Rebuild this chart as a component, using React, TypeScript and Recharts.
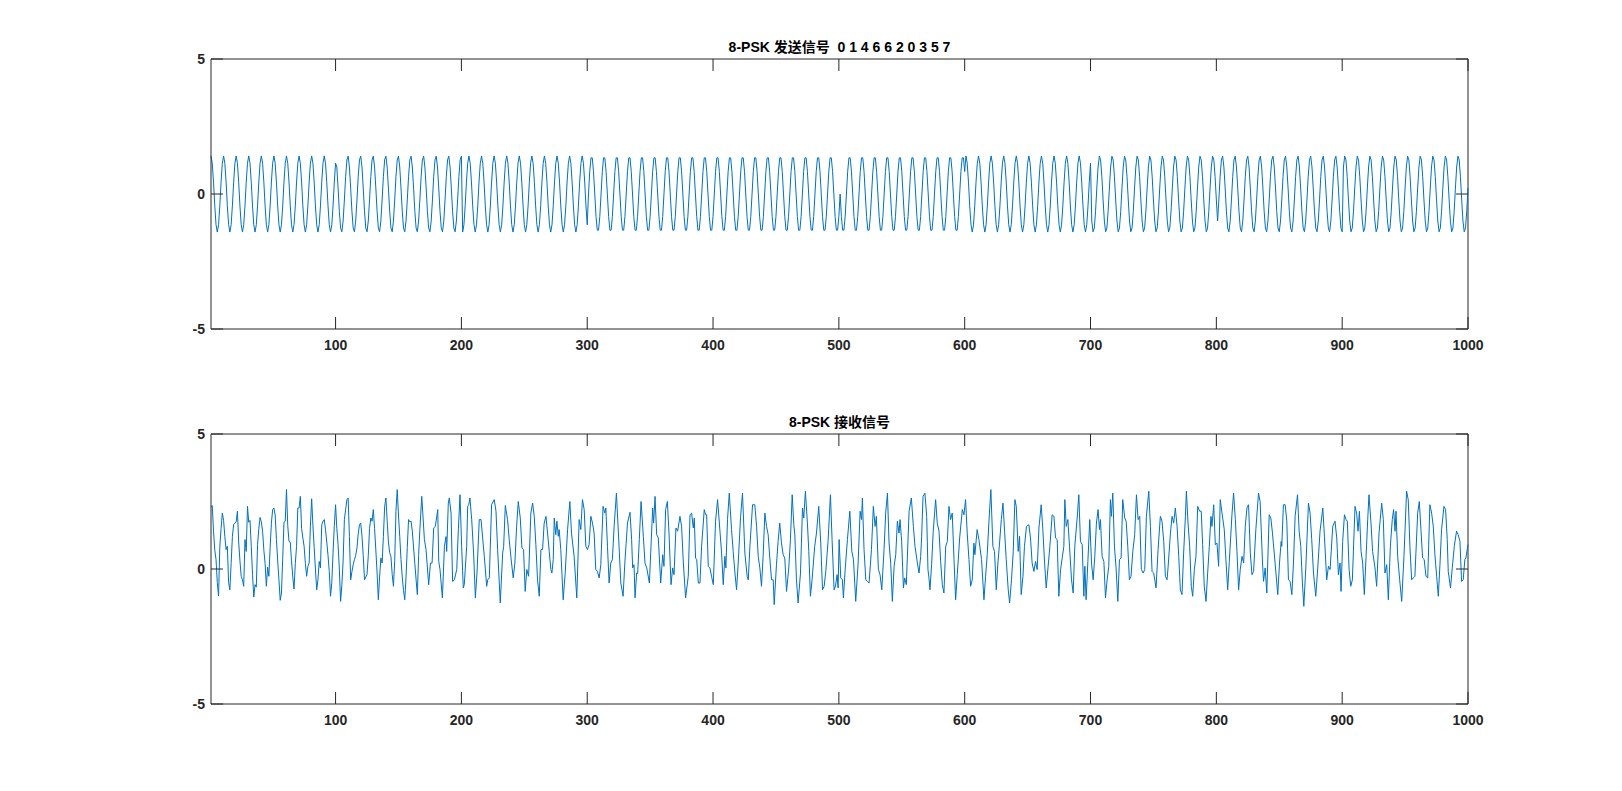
import { LineChart, Line, XAxis, YAxis, ReferenceLine } from 'recharts';

// 8-PSK transmitted signal, one array per symbol (0 1 4 6 6 2 0 3 5 7), 100 samples each
const tx0 = [
  1.41, 1.14, 0.44, -0.44, -1.14, -1.41, -1.14, -0.44, 0.44, 1.14,
  1.41, 1.14, 0.44, -0.44, -1.14, -1.41, -1.14, -0.44, 0.44, 1.14,
  1.41, 1.14, 0.44, -0.44, -1.14, -1.41, -1.14, -0.44, 0.44, 1.14,
  1.41, 1.14, 0.44, -0.44, -1.14, -1.41, -1.14, -0.44, 0.44, 1.14,
  1.41, 1.14, 0.44, -0.44, -1.14, -1.41, -1.14, -0.44, 0.44, 1.14,
  1.41, 1.14, 0.44, -0.44, -1.14, -1.41, -1.14, -0.44, 0.44, 1.14,
  1.41, 1.14, 0.44, -0.44, -1.14, -1.41, -1.14, -0.44, 0.44, 1.14,
  1.41, 1.14, 0.44, -0.44, -1.14, -1.41, -1.14, -0.44, 0.44, 1.14,
  1.41, 1.14, 0.44, -0.44, -1.14, -1.41, -1.14, -0.44, 0.44, 1.14,
  1.41, 1.14, 0.44, -0.44, -1.14, -1.41, -1.14, -0.44, 0.44, 1.14,
];
const tx1 = [
  1, 0.22, -0.64, -1.26, -1.4, -1, -0.22, 0.64, 1.26, 1.4,
  1, 0.22, -0.64, -1.26, -1.4, -1, -0.22, 0.64, 1.26, 1.4,
  1, 0.22, -0.64, -1.26, -1.4, -1, -0.22, 0.64, 1.26, 1.4,
  1, 0.22, -0.64, -1.26, -1.4, -1, -0.22, 0.64, 1.26, 1.4,
  1, 0.22, -0.64, -1.26, -1.4, -1, -0.22, 0.64, 1.26, 1.4,
  1, 0.22, -0.64, -1.26, -1.4, -1, -0.22, 0.64, 1.26, 1.4,
  1, 0.22, -0.64, -1.26, -1.4, -1, -0.22, 0.64, 1.26, 1.4,
  1, 0.22, -0.64, -1.26, -1.4, -1, -0.22, 0.64, 1.26, 1.4,
  1, 0.22, -0.64, -1.26, -1.4, -1, -0.22, 0.64, 1.26, 1.4,
  1, 0.22, -0.64, -1.26, -1.4, -1, -0.22, 0.64, 1.26, 1.4,
];
const tx2 = [
  -1.41, -1.14, -0.44, 0.44, 1.14, 1.41, 1.14, 0.44, -0.44, -1.14,
  -1.41, -1.14, -0.44, 0.44, 1.14, 1.41, 1.14, 0.44, -0.44, -1.14,
  -1.41, -1.14, -0.44, 0.44, 1.14, 1.41, 1.14, 0.44, -0.44, -1.14,
  -1.41, -1.14, -0.44, 0.44, 1.14, 1.41, 1.14, 0.44, -0.44, -1.14,
  -1.41, -1.14, -0.44, 0.44, 1.14, 1.41, 1.14, 0.44, -0.44, -1.14,
  -1.41, -1.14, -0.44, 0.44, 1.14, 1.41, 1.14, 0.44, -0.44, -1.14,
  -1.41, -1.14, -0.44, 0.44, 1.14, 1.41, 1.14, 0.44, -0.44, -1.14,
  -1.41, -1.14, -0.44, 0.44, 1.14, 1.41, 1.14, 0.44, -0.44, -1.14,
  -1.41, -1.14, -0.44, 0.44, 1.14, 1.41, 1.14, 0.44, -0.44, -1.14,
  -1.41, -1.14, -0.44, 0.44, 1.14, 1.41, 1.14, 0.44, -0.44, -1.14,
];
const tx3 = [
  0, 0.83, 1.34, 1.34, 0.83, 0, -0.83, -1.34, -1.34, -0.83,
  0, 0.83, 1.34, 1.34, 0.83, 0, -0.83, -1.34, -1.34, -0.83,
  0, 0.83, 1.34, 1.34, 0.83, 0, -0.83, -1.34, -1.34, -0.83,
  0, 0.83, 1.34, 1.34, 0.83, 0, -0.83, -1.34, -1.34, -0.83,
  0, 0.83, 1.34, 1.34, 0.83, 0, -0.83, -1.34, -1.34, -0.83,
  0, 0.83, 1.34, 1.34, 0.83, 0, -0.83, -1.34, -1.34, -0.83,
  0, 0.83, 1.34, 1.34, 0.83, 0, -0.83, -1.34, -1.34, -0.83,
  0, 0.83, 1.34, 1.34, 0.83, 0, -0.83, -1.34, -1.34, -0.83,
  0, 0.83, 1.34, 1.34, 0.83, 0, -0.83, -1.34, -1.34, -0.83,
  0, 0.83, 1.34, 1.34, 0.83, 0, -0.83, -1.34, -1.34, -0.83,
];
const tx4 = [
  0, 0.83, 1.34, 1.34, 0.83, 0, -0.83, -1.34, -1.34, -0.83,
  0, 0.83, 1.34, 1.34, 0.83, 0, -0.83, -1.34, -1.34, -0.83,
  0, 0.83, 1.34, 1.34, 0.83, 0, -0.83, -1.34, -1.34, -0.83,
  0, 0.83, 1.34, 1.34, 0.83, 0, -0.83, -1.34, -1.34, -0.83,
  0, 0.83, 1.34, 1.34, 0.83, 0, -0.83, -1.34, -1.34, -0.83,
  0, 0.83, 1.34, 1.34, 0.83, 0, -0.83, -1.34, -1.34, -0.83,
  0, 0.83, 1.34, 1.34, 0.83, 0, -0.83, -1.34, -1.34, -0.83,
  0, 0.83, 1.34, 1.34, 0.83, 0, -0.83, -1.34, -1.34, -0.83,
  0, 0.83, 1.34, 1.34, 0.83, 0, -0.83, -1.34, -1.34, -0.83,
  0, 0.83, 1.34, 1.34, 0.83, 0, -0.83, -1.34, -1.34, -0.83,
];
const tx5 = [
  0, -0.83, -1.34, -1.34, -0.83, 0, 0.83, 1.34, 1.34, 0.83,
  0, -0.83, -1.34, -1.34, -0.83, 0, 0.83, 1.34, 1.34, 0.83,
  0, -0.83, -1.34, -1.34, -0.83, 0, 0.83, 1.34, 1.34, 0.83,
  0, -0.83, -1.34, -1.34, -0.83, 0, 0.83, 1.34, 1.34, 0.83,
  0, -0.83, -1.34, -1.34, -0.83, 0, 0.83, 1.34, 1.34, 0.83,
  0, -0.83, -1.34, -1.34, -0.83, 0, 0.83, 1.34, 1.34, 0.83,
  0, -0.83, -1.34, -1.34, -0.83, 0, 0.83, 1.34, 1.34, 0.83,
  0, -0.83, -1.34, -1.34, -0.83, 0, 0.83, 1.34, 1.34, 0.83,
  0, -0.83, -1.34, -1.34, -0.83, 0, 0.83, 1.34, 1.34, 0.83,
  0, -0.83, -1.34, -1.34, -0.83, 0, 0.83, 1.34, 1.34, 0.83,
];
const tx6 = [
  1.41, 1.14, 0.44, -0.44, -1.14, -1.41, -1.14, -0.44, 0.44, 1.14,
  1.41, 1.14, 0.44, -0.44, -1.14, -1.41, -1.14, -0.44, 0.44, 1.14,
  1.41, 1.14, 0.44, -0.44, -1.14, -1.41, -1.14, -0.44, 0.44, 1.14,
  1.41, 1.14, 0.44, -0.44, -1.14, -1.41, -1.14, -0.44, 0.44, 1.14,
  1.41, 1.14, 0.44, -0.44, -1.14, -1.41, -1.14, -0.44, 0.44, 1.14,
  1.41, 1.14, 0.44, -0.44, -1.14, -1.41, -1.14, -0.44, 0.44, 1.14,
  1.41, 1.14, 0.44, -0.44, -1.14, -1.41, -1.14, -0.44, 0.44, 1.14,
  1.41, 1.14, 0.44, -0.44, -1.14, -1.41, -1.14, -0.44, 0.44, 1.14,
  1.41, 1.14, 0.44, -0.44, -1.14, -1.41, -1.14, -0.44, 0.44, 1.14,
  1.41, 1.14, 0.44, -0.44, -1.14, -1.41, -1.14, -0.44, 0.44, 1.14,
];
const tx7 = [
  -1, -1.4, -1.26, -0.64, 0.22, 1, 1.4, 1.26, 0.64, -0.22,
  -1, -1.4, -1.26, -0.64, 0.22, 1, 1.4, 1.26, 0.64, -0.22,
  -1, -1.4, -1.26, -0.64, 0.22, 1, 1.4, 1.26, 0.64, -0.22,
  -1, -1.4, -1.26, -0.64, 0.22, 1, 1.4, 1.26, 0.64, -0.22,
  -1, -1.4, -1.26, -0.64, 0.22, 1, 1.4, 1.26, 0.64, -0.22,
  -1, -1.4, -1.26, -0.64, 0.22, 1, 1.4, 1.26, 0.64, -0.22,
  -1, -1.4, -1.26, -0.64, 0.22, 1, 1.4, 1.26, 0.64, -0.22,
  -1, -1.4, -1.26, -0.64, 0.22, 1, 1.4, 1.26, 0.64, -0.22,
  -1, -1.4, -1.26, -0.64, 0.22, 1, 1.4, 1.26, 0.64, -0.22,
  -1, -1.4, -1.26, -0.64, 0.22, 1, 1.4, 1.26, 0.64, -0.22,
];
const tx8 = [
  -1, -0.22, 0.64, 1.26, 1.4, 1, 0.22, -0.64, -1.26, -1.4,
  -1, -0.22, 0.64, 1.26, 1.4, 1, 0.22, -0.64, -1.26, -1.4,
  -1, -0.22, 0.64, 1.26, 1.4, 1, 0.22, -0.64, -1.26, -1.4,
  -1, -0.22, 0.64, 1.26, 1.4, 1, 0.22, -0.64, -1.26, -1.4,
  -1, -0.22, 0.64, 1.26, 1.4, 1, 0.22, -0.64, -1.26, -1.4,
  -1, -0.22, 0.64, 1.26, 1.4, 1, 0.22, -0.64, -1.26, -1.4,
  -1, -0.22, 0.64, 1.26, 1.4, 1, 0.22, -0.64, -1.26, -1.4,
  -1, -0.22, 0.64, 1.26, 1.4, 1, 0.22, -0.64, -1.26, -1.4,
  -1, -0.22, 0.64, 1.26, 1.4, 1, 0.22, -0.64, -1.26, -1.4,
  -1, -0.22, 0.64, 1.26, 1.4, 1, 0.22, -0.64, -1.26, -1.4,
];
const tx9 = [
  1, 1.4, 1.26, 0.64, -0.22, -1, -1.4, -1.26, -0.64, 0.22,
  1, 1.4, 1.26, 0.64, -0.22, -1, -1.4, -1.26, -0.64, 0.22,
  1, 1.4, 1.26, 0.64, -0.22, -1, -1.4, -1.26, -0.64, 0.22,
  1, 1.4, 1.26, 0.64, -0.22, -1, -1.4, -1.26, -0.64, 0.22,
  1, 1.4, 1.26, 0.64, -0.22, -1, -1.4, -1.26, -0.64, 0.22,
  1, 1.4, 1.26, 0.64, -0.22, -1, -1.4, -1.26, -0.64, 0.22,
  1, 1.4, 1.26, 0.64, -0.22, -1, -1.4, -1.26, -0.64, 0.22,
  1, 1.4, 1.26, 0.64, -0.22, -1, -1.4, -1.26, -0.64, 0.22,
  1, 1.4, 1.26, 0.64, -0.22, -1, -1.4, -1.26, -0.64, 0.22,
  1, 1.4, 1.26, 0.64, -0.22, -1, -1.4, -1.26, -0.64, 0.22,
];

// received signal, [sample, value]
const rxA = [
  [1, 2.3], [2, 2.35], [3, 1.4], [4, 0.7], [5, 0.35], [6, -0.5], [7, -1], [8, 0.8], [9, 1.5], [10, 2.07],
  [11, 1.8], [12, 1.2], [13, 0.72], [14, 0.84], [15, -0.5], [16, -0.77], [17, 0.2], [18, 1.2], [19, 1.65], [20, 1.7],
  [21, 1.75], [22, 2.14], [23, 1], [24, 0.3], [25, -0.27], [26, -0.4], [27, -0.64], [28, 1.09], [29, 0.65], [30, 2.32],
  [31, 1.73], [32, 1.8], [33, 0.84], [34, -0.2], [35, -1.04], [36, -0.58], [37, -0.67], [38, 0.9], [39, 1.5], [40, 1.91],
  [41, 1.75], [42, 1.4], [43, 0.7], [44, 0.2], [45, -0.64], [46, 0.07], [47, -0.27], [48, 0.8], [49, 1.7], [50, 2.2],
  [51, 2.26], [52, 2], [53, 1.09], [54, 0.3], [55, -0.4], [56, -1.16], [57, -0.89], [58, 0.4], [59, 1.73], [60, 1.77],
  [61, 2.94], [62, 1.6], [63, 1.02], [64, 0.99], [65, 0.3], [66, -0.3], [67, -0.74], [68, 0.2], [69, 0.84], [70, 2.26],
  [71, 2.26], [72, 2.69], [73, 1.5], [74, 1.15], [75, 0.84], [76, 0.2], [77, -0.27], [78, 0.1], [79, 0.22], [80, 1.6],
  [81, 2.6], [82, 1.6], [83, 0.8], [84, 0], [85, -0.77], [86, -0.4], [87, 0.28], [88, 0.04], [89, 1.64], [90, 1.77],
  [91, 1.83], [92, 1.46], [93, 1], [94, 0.5], [95, -0.1], [96, -1.01], [97, -0.5], [98, 0.6], [99, 1.6], [100, 2.38],
  [101, 1.5], [102, 0.9], [103, 0], [104, -1.2], [105, -0.6], [106, 0.3], [107, 1.83], [108, 2.2], [109, 2.57], [110, 2.63],
  [111, 1.2], [112, -0.4], [113, -0.1], [114, 0.16], [115, 0.35], [116, 0.5], [117, 0.78], [118, 1.3], [119, 1.64], [120, 1.7],
  [121, 1.21], [122, 0.5], [123, -0.4], [124, -0.3], [125, -0.2], [126, 0.5], [127, 1.5], [128, 1.89], [129, 1.77], [130, 2.2],
  [131, 1.5], [132, 0.7], [133, -0.15], [134, -1.14], [135, -0.3], [136, 0.41], [137, 0.22], [138, 1.2], [139, 2.3], [140, 2.63],
  [141, 1.8], [142, 1], [143, 0.6], [144, 0.47], [145, -0.2], [146, -0.64], [147, 0.3], [148, 2.14], [149, 2.94], [150, 2],
  [151, 1.2], [152, 0.35], [153, -0.3], [154, -0.8], [155, -1.14], [156, -0.3], [157, 0.8], [158, 1.83], [159, 1.75], [160, 1.77],
  [161, 1.4], [162, 0.78], [163, 0.2], [164, -0.4], [165, -0.95], [166, 0.5], [167, 1.46],
];
const rxB = [
  [168.5, 2.69], [170.6, 1.09], [171.9, 0.72], [174, -0.58], [175.4, 0.22], [176.7, 0.22], [178, 1.52], [179.3, 1.58],
  [181.2, 2.2], [182, 0.28], [183, -0.02], [184.9, -1.07], [186.5, 0.84], [187.8, 1.2], [188.3, 0.65], [189.6, 2.44],
  [190.4, 2.63], [191.8, 2.07], [193, -0.46], [194.4, -0.4], [196.3, -0.02], [197.6, 1.46], [198.9, 2.75], [200.2, 0.84],
  [201.5, -0.7], [202.3, -0.58], [204.2, 0.84], [205, 2.32], [205.8, 2.38], [206.8, 2.63], [208.2, 1.83], [209.7, 0.59],
  [211.1, -1.07], [212.4, -0.15], [214.2, 1.83], [215.6, 1.83], [216.9, 1.15], [218.2, 0.47], [220.1, -0.64], [220.9, -0.4],
  [222.2, -0.33], [224, 2.38], [226.1, 2.57], [227.5, 2.14], [228.8, 0.72], [230.9, -1.26], [232.8, 0.59], [233.6, 0.84],
  [234.9, 2.35], [236.7, 1.83], [238, 1.09], [239.4, 0.41], [241.2, -0.33], [242.5, 0.22], [243.9, 1.58], [245.2, 2.5],
  [246.8, 1.89], [248.1, 0.78], [249.4, 0.72], [250.7, -0.83], [252, -0.02], [253.4, -0.27], [255.2, 2.07], [256.6, 2.44],
  [257.9, 1.95], [259.2, 0.9], [260.5, -0.4], [261.9, -1.01], [263.2, 0.72], [264.5, 0.72], [265.8, 1.7], [267.2, 1.95],
  [268.5, 1.33], [269.8, 0.65], [271.1, -0.02], [271.9, -0.15], [273, 0.35], [273.8, 1.89], [275, 1.27], [275.9, 1.77],
  [277, 1.21], [277.7, 1.46], [279, 0.72], [280.9, -1.14], [282.5, -0.15], [284.4, 1.46], [286.2, 2.5], [287.5, 1.33],
  [289.6, 0.47], [291.7, -1.07], [293.6, 1.83], [294.9, 1.46], [296.2, 2.57], [297.6, 2.2], [298.9, 0.84], [300.2, 0.72],
  [301.5, 0.9], [302.9, 1.95], [304.2, 1.7], [305.5, 1.33], [306.8, -0.02], [308.1, -0.09], [309.5, -0.33], [310.8, 0.16],
  [312.6, 2.32], [314, 2.07], [314.8, 2.26], [316.1, 0.84], [317.4, -0.52], [318.7, 0.22], [320, 0.35], [321.4, 1.58],
  [323.2, 2.81], [325.3, 0.84], [326.7, -0.52], [328.5, -1.01], [329.9, 0.22], [332, 1.7],
];
const rxC = [
  [334, 2.1], [335.3, 1.09], [336.1, 0.04], [337.2, 0.16], [338, -1.07], [339.3, -0.15], [340.1, -0.17], [341.4, 1.09],
  [342.8, 2.5], [344.6, 1.21], [345.9, 0.22], [347.3, 0.04], [349.4, -0.52], [350.7, 0.84], [352, 2.26], [352.8, 1.7],
  [353.9, 2.69], [355.2, 1.27], [356.5, 1.15], [358.4, -0.52], [360, 0.53], [361, 0.1], [362.3, 2.2], [363.7, 2.5],
  [365, 1.33], [366.6, -0.58], [367.9, 0.04], [369, -0.21], [370.5, 1.52], [371.9, 1.4], [373.7, 1.95], [375, 1.58],
  [376.4, 0.22], [378.2, -1.07], [380.3, -0.27], [381.7, 2.01], [383, 2.07], [384.3, 1.52], [385.1, 1.89], [386.1, 0.41],
  [387, 0.35], [388.3, -0.52], [389.6, -0.52], [390.9, 0.84], [393, 2.2], [394.1, 2.01], [394.9, 2.01], [396.2, 0.1],
  [397.5, 0.04], [398.8, -0.27], [400.2, -0.58], [402, 1.77], [403.6, 2.57], [405.5, 1.4], [406.8, 0.59], [408.1, -0.58],
  [409.4, 0.47], [410.2, 0.04], [411.5, 1.83], [412.9, 2.81], [414.7, 1.46], [416, 0.65], [417.4, -0.15], [418.7, -0.77],
  [420, 0.22], [421.9, 1.95], [423.4, 2.81], [425.3, 0.59], [427.1, -0.27], [428, -0.4], [429.3, 0.84], [431.4, 2.38],
  [433.2, 2.38], [434.6, 1.58], [435.9, 0.47], [437.2, 0.04], [438.5, -0.64], [439.8, 0.47], [441.2, 2.07], [442.5, 1.58],
  [443.8, 1.27], [445.1, 0.41], [446.5, -0.4], [447.8, -0.4], [448.6, -1.32], [450.4, 0.16], [451.7, 1.02], [453, 1.7],
  [454.4, 0.96], [455.7, 0.53], [457, 0.41], [458.4, -0.83], [460.2, 0.04], [461.5, 1.09], [462.9, 2.75], [464.2, 1.64],
  [465, 1.27], [466.3, -0.4], [467.6, -1.26], [469.5, -0.15], [471.1, 2.26], [472.1, 1.89], [473.4, 2.88], [475, 1.7],
  [476.1, 0.65], [477.4, -1.01], [478.7, -0.4], [480.8, 0.84], [482.2, 1.33], [484, 2.32], [485.6, 0.96], [487, -0.77],
  [488.3, -0.64], [489.6, -0.09], [491.4, 1.02], [493.3, 2.75], [494.6, 1.09], [496.2, -0.77], [497.3, -0.64], [498.6, -0.21],
  [499.4, -0.7],
];
const rxD = [
  [500.2, 1.09], [501.5, -0.33], [502.8, -0.4], [503.6, -1.07], [505, -0.02], [506.8, 1.09], [508.7, 2.14], [510.3, 0.65],
  [511.6, 0.35], [513.4, -1.2], [515.3, 0.22], [516.9, 2.14], [518, 1.83], [518.7, 2.63], [520, 0.72], [521.4, -0.4],
  [522.7, -0.46], [524, -0.52], [525.9, 0.72], [527.4, 2.32], [528.8, 1.58], [529.8, 1.95], [531.4, -0.02], [532.7, -0.21],
  [534.1, -0.77], [535.9, 0.72], [537.2, 2.07], [538.6, 2.81], [539.9, 0.96], [541.2, 0.22], [542.5, -1.2], [543.9, 0.1],
  [545.2, 0.53], [546.5, 1.77], [547.8, 1.33], [548.6, 1.83], [549.9, 1.02], [551.3, -0.7], [552.3, -0.33], [553.6, -0.58],
  [555.8, 2.14], [557.6, 2.63], [559.2, 1.58], [560.5, 0.84], [562.4, 0.22], [563.7, -0.15], [565, 0.47], [565.8, 1.21],
  [566.9, 2.69], [568.4, 2.81], [569.8, 1.95], [570.8, -0.02], [571.6, -0.33], [572.4, -0.77], [573.7, 0.16], [575, 1.4],
  [576.9, 2.57], [578.2, 1.7], [579.6, 1.4], [580.9, 0.28], [582.2, -0.58], [583.5, -0.89], [584.9, 0.84], [586.2, 1.02],
  [587.5, 2.32], [588.8, 1.83], [590.1, 2.07], [591.5, 0.35], [592.8, -1.14], [594.1, -0.21], [596, 1.15], [598.1, 2.2],
  [599.4, 2.01], [600.7, 2.57], [602, 1.33], [603.4, 0.35], [604.7, -0.64], [606, -0.4], [607.3, 0.96], [608.1, 0.53],
  [609.9, 1.46], [611.3, 1.09], [613.4, 0.35], [615.3, -1.14], [616.6, -0.27], [617.9, 0.53], [619.2, 1.7], [620.8, 2.94],
  [622.4, 0.84], [623.7, 0.65], [625.1, -0.77], [626.4, 0.22], [627.7, 0.96], [629.1, 1.83], [630.4, 2.44], [631.7, 1.4],
  [633, 0.35], [634.6, -0.77], [635.7, -1.26], [637.2, -0.4], [638.6, 0.65], [639.9, 2.57], [641, 2.32], [642.5, 0.65],
  [643.6, 1.21], [644.9, -0.95], [646.3, -0.27], [647.5, 0.84], [649.1, 1.58], [651, 1.64], [652.3, 1.15], [653.6, 0.22],
  [655, -0.09], [656.3, 0.28], [657.6, -0.02], [659, 1.52], [660.8, 2.38], [662.1, 1.46], [663.5, 0.22], [664.8, -0.7],
  [666.3, 0.1], [667.7, 0.84],
];
const rxE = [
  [669.5, 2.01], [670.9, 1.95], [672.2, 1.15], [673.5, 1.09], [674.8, -1.01], [676.2, -0.02], [677.5, 0.41], [678.8, 0.84],
  [679.6, 2.57], [680.7, 1.58], [682, 1.83], [683.3, 0.84], [684.9, -0.4], [686.2, -0.89], [687.5, 0.84], [689.4, 1.89],
  [690.7, 2.75], [692, 1.02], [693.4, 0.9], [694.7, -1.01], [695.5, 0.1], [696.5, -1.14], [697.9, 0.28], [699.4, 1.83],
  [700.8, 0.22], [702.1, -0.4], [703.4, 0.47], [704.7, 1.7], [706, 2.2], [707.1, 1.46], [707.9, 1.83], [709.2, 0.47],
  [710.6, 0.28], [711.9, -1.07], [713.2, -0.4], [714.5, 0.1], [715.8, 2.57], [716.6, 1.95], [717.7, 2.81], [719, 0.84],
  [720.3, 0.04], [721.7, -1.2], [723, 0.35], [724.3, 0.41], [725.6, 2.57], [727.2, 1.89], [728.3, 1.77], [729.6, 0.84],
  [730.9, -0.4], [732.2, -0.27], [733.6, 0.65], [735.1, 1.27], [736.5, 2.75], [737.8, 1.83], [739.1, 1.95], [740.4, -0.02],
  [741.8, -0.15], [743.1, -0.02], [744.4, 1.95], [746.3, 2.88], [747.6, 1.58], [748.9, -0.09], [750.2, -0.15], [752.1, -0.7],
  [753.7, 0.72], [755.5, 1.95], [756.8, 1.77], [758.2, 1.02], [759.5, -0.27], [760.8, -0.4], [761.6, 0.04], [763.5, 1.33],
  [764.8, 1.95], [766.1, 1.7], [767.4, 2.26], [768.8, 1.58], [770.1, 0.47], [771.4, -0.77], [772.7, -0.95], [774, 0.59],
  [775.4, 1.95], [776.2, 2.88], [777.5, 1.7], [778.8, 0.84], [780.1, -0.64], [781.2, -1.01], [782.5, -0.02], [783.8, 0.47],
  [785.2, 2.32], [786.7, 2.14], [788, 2.14], [789.1, 0.9], [790.4, -0.64], [791.8, -1.2], [793.1, -0.15], [794.4, 0.84],
  [795.7, 1.95], [796.5, 1.58], [797.9, 2.38], [799.2, 0.9], [800.5, 0.96], [801.8, 0.1], [803.1, 2.57], [804.5, 2.07],
  [806.3, 1.46], [807.6, 0.35], [809, -0.77], [810.3, 0.28], [812.4, 2.01], [813.7, 2.81], [815.1, 1.83], [816.4, 0.65],
  [817.7, -0.77], [819, -0.02], [820.4, 0.47], [821.7, 0.22], [823, 1.58], [824.3, 2.26], [825.6, 2.38], [827, 0.59],
  [828.3, -0.21], [829.6, -0.09], [831.4, 1.46],
];
const rxF = [
  [833.5, 2.81], [834.8, 2.5], [836.7, 0.22], [837.5, -0.46], [838.8, 0.04], [840.1, -0.89], [842, 2.01], [843.3, 1.89],
  [844.6, 1.33], [846.7, 0.22], [848.8, -0.95], [850.2, 0.22], [851.5, 1.02], [852, 0.84], [853.3, 2.38], [854.7, 2.38],
  [856, 1.77], [857.3, -0.4], [858.6, -0.46], [860, -0.95], [861.3, 0.22], [862.6, 1.95], [864.5, 2.75], [865.8, 1.4],
  [867.1, 0.84], [868.4, -0.52], [869.5, -1.38], [871.1, 0.04], [873.2, 2.44], [874.5, 2.07], [875.8, 1.09], [877.2, -0.15],
  [879, -1.01], [880.6, 0.04], [882.4, 1.4], [884.6, 2.26], [885.9, 1.21], [887.7, -0.4], [889.1, 0.1], [890.4, -0.02],
  [892.5, 1.58], [894.3, 1.77], [895.7, 1.15], [897, -0.21], [898.3, 0.22], [899.1, -0.83], [900.4, 1.02], [901.8, 2.01],
  [903.1, 1.83], [904.1, 1.77], [905.5, -0.02], [906.8, -0.64], [908.1, -0.4], [910.2, 2.32], [911.5, 2.07], [912.6, 1.4],
  [913.7, 2.14], [915, 0.65], [916.3, 0.22], [917.6, -0.95], [919, 0.47], [920.3, 1.83], [921.3, 2.75], [922.9, 1.7],
  [924.2, 0.65], [926.1, 0.04], [927.4, -0.64], [929.3, 1.33], [931.4, 2.44], [932.7, 1.83], [934, -0.15], [935.4, 0.16],
  [936.7, -1.14], [938.3, 0.84], [939.8, 1.83], [940.9, 2.2], [942, 1.4], [942.8, 2.14], [944.1, 0.47], [945.7, -0.4],
  [947.3, -1.2], [949.1, 0.47], [951.2, 2.88], [952.5, 2.57], [953.9, 0.78], [955.2, -0.4], [956.5, -0.33], [957.8, -0.27],
  [960, 2.07], [961.3, 2.5], [962.6, 1.46], [963.9, 0.41], [965.2, 0.35], [966.6, -0.27], [968, -0.33], [969.7, 2.38],
  [971.1, 2.07], [972.4, 1.58], [973.7, 0.53], [975.1, -0.27], [976.4, -1.01], [977.7, 0.16], [979, 1.46], [980.9, 2.32],
  [982.2, 2.2], [983.5, 1.09], [984.3, -0.09], [986.1, -0.7], [987.5, 0.04], [989.1, 0.84], [990.9, 1.4], [992.2, 1.27],
  [993.6, 1.02], [994.9, -0.46], [996.2, -0.4], [997.5, 0.35], [998.3, 0.41], [1000, 0.9],
];

const xTicks = [100, 200, 300, 400, 500, 600, 700, 800, 900, 1000];
const yTicks = [-5, 0, 5];

const txTitle = '8-PSK 发送信号  0 1 4 6 6 2 0 3 5 7';
const rxTitle = '8-PSK 接收信号';

const INK = '#262626';
const BLUE = '#0072BD';
const FONT = "'Liberation Sans', Arial, 'Noto Sans CJK SC', sans-serif";

// plot box, same for both panels
const PLOT_W = 1257;
const PLOT_H = 270;
const TICK = 12;

const txData = [...tx0, ...tx1, ...tx2, ...tx3, ...tx4, ...tx5, ...tx6, ...tx7, ...tx8, ...tx9].map((v, i) => ({
  n: i + 1,
  v,
}));
const rxData = [...rxA, ...rxB, ...rxC, ...rxD, ...rxE, ...rxF].map(([n, v]) => ({ n, v }));

// ticks point inwards, mirrored on the top edge like matlab's box
const XTick = ({ x, y, payload }: any) => (
  <g>
    <line x1={x} y1={y} x2={x} y2={y - TICK} stroke={INK} />
    <line x1={x} y1={y - PLOT_H} x2={x} y2={y - PLOT_H + TICK} stroke={INK} />
    <text x={x} y={y + 21} textAnchor="middle" fontFamily={FONT} fontWeight="bold" fontSize={14} fill={INK}>
      {payload.value}
    </text>
  </g>
);

const YTick = ({ x, y, payload }: any) => (
  <g>
    <line x1={x} y1={y} x2={x + TICK} y2={y} stroke={INK} />
    <line x1={x + PLOT_W - TICK} y1={y} x2={x + PLOT_W} y2={y} stroke={INK} />
    <text x={x - 6} y={y + 5} textAnchor="end" fontFamily={FONT} fontWeight="bold" fontSize={14} fill={INK}>
      {payload.value}
    </text>
  </g>
);

function Panel({ data, top, title }: any) {
  return (
    <div style={{ position: 'absolute', left: 0, top: top, width: 1622, height: 370 }}>
      <div
        style={{
          position: 'absolute',
          left: 211,
          top: 39,
          width: PLOT_W,
          textAlign: 'center',
          fontFamily: FONT,
          fontWeight: 'bold',
          fontSize: 14,
          lineHeight: '16px',
          whiteSpace: 'pre',
          color: '#000',
        }}
      >
        {title}
      </div>
      <LineChart width={1622} height={370} data={data} margin={{ top: 59, right: 154, bottom: 11, left: 171 }}>
        <XAxis
          dataKey="n"
          type="number"
          domain={[1, 1000]}
          ticks={xTicks}
          interval={0}
          height={30}
          tickSize={0}
          tickMargin={0}
          tickLine={false}
          tick={XTick}
          axisLine={{ stroke: INK }}
        />
        <YAxis
          type="number"
          domain={[-5, 5]}
          ticks={yTicks}
          interval={0}
          width={40}
          tickSize={0}
          tickMargin={0}
          tickLine={false}
          tick={YTick}
          axisLine={{ stroke: INK }}
        />
        <ReferenceLine y={5} stroke={INK} />
        <ReferenceLine x={1000} stroke={INK} />
        <Line type="linear" dataKey="v" stroke={BLUE} strokeWidth={1} dot={false} isAnimationActive={false} />
      </LineChart>
    </div>
  );
}

export default function App() {
  return (
    <div style={{ position: 'absolute', left: 0, top: 0, width: 1622, height: 791, background: '#fff' }}>
      <Panel data={txData} top={0} title={txTitle} />
      <Panel data={rxData} top={375} title={rxTitle} />
    </div>
  );
}
